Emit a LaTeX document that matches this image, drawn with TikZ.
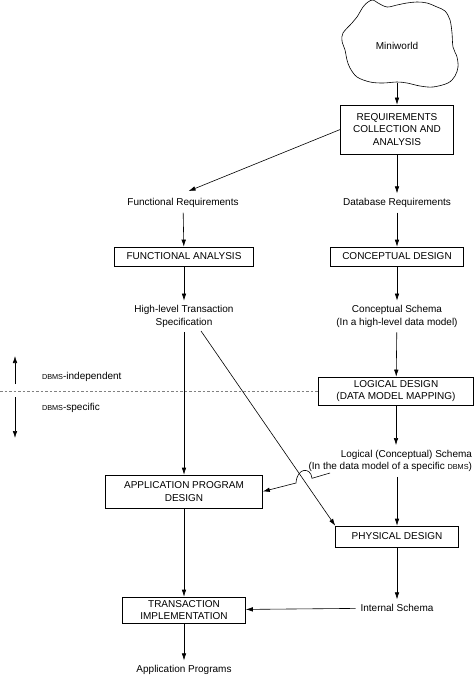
\documentclass[tikz,border=0pt]{standalone}
\usepackage{fontspec}
\setmainfont{Liberation Sans}
\usepackage{tikz}
\usetikzlibrary{arrows.meta}
\newcommand{\dbms}{{\fontsize{7.3}{9}\selectfont DBMS}}
\tikzstyle{box}=[rectangle,draw=black,line width=0.6pt,inner sep=2pt,
  align=center,font=\fontsize{10}{12.5}\selectfont]
\tikzstyle{txt}=[inner sep=2pt,outer sep=3pt,align=center,
  font=\fontsize{10}{12.5}\selectfont]
\tikzstyle{none}=[]
\tikzstyle{conn}=[line width=0.6pt,-{Latex[length=7pt,width=4.5pt]}]

\begin{document}
\begin{tikzpicture}[x=1pt, y=-1pt]
            \useasboundingbox (0, 0) rectangle (474, 676);
            \draw [line width=0.6pt] plot [smooth cycle, tension=0.55] coordinates {
              (343,33) (352,23) (357,17) (363,7) (368,2) (373,0) (378,3) (387,7)
              (397,5) (407,3) (417,2) (427,3) (437,7) (445,11) (450,20) (452,33)
              (453,47) (457,57) (458,67) (455,76) (448,83) (433,87) (420,86)
              (407,83) (397,82) (383,83) (370,82) (357,77) (350,68) (347,60)
              (345,50) (342,41)};
            \node [style=txt] (0) at (397, 46) {Miniworld};
            \coordinate (1) at (397, 83);
            \node [style=box, minimum width=113, minimum height=49] (2) at (397, 129.5) {REQUIREMENTS\\COLLECTION AND\\ANALYSIS};
            \node [style=txt] (3) at (183, 203) {Functional Requirements};
            \node [style=txt] (4) at (397, 203) {Database Requirements};
            \node [style=box, minimum width=139, minimum height=19] (5) at (184, 256.5) {FUNCTIONAL ANALYSIS};
            \node [style=box, minimum width=133, minimum height=19] (6) at (397, 256.5) {CONCEPTUAL DESIGN};
            \node [style=txt] (7) at (184, 316.5) {High-level Transaction\\Specification};
            \node [style=txt] (8) at (397, 316.5) {Conceptual Schema\\(In a high-level data model)};
            \node [style=box, minimum width=155, minimum height=28] (9) at (396, 391) {LOGICAL DESIGN\\(DATA MODEL MAPPING)};
            \node [style=txt, align=right, anchor=east, outer sep=0pt] (10) at (474, 461) {Logical (Conceptual) Schema\\(In the data model of a specific \dbms)};
            \node [style=box, minimum width=157, minimum height=33] (11) at (184, 491.5) {APPLICATION PROGRAM\\DESIGN};
            \node [style=box, minimum width=123, minimum height=21] (12) at (397, 536.5) {PHYSICAL DESIGN};
            \node [style=txt] (13) at (397, 608) {Internal Schema};
            \node [style=box, minimum width=123, minimum height=26] (14) at (184, 610) {TRANSACTION\\IMPLEMENTATION};
            \node [style=txt] (15) at (184, 670) {Application Programs};
            \node [style=txt, anchor=west] (16) at (37, 377) {\dbms-independent};
            \node [style=txt, anchor=west] (17) at (37, 408) {\dbms-specific};
            \coordinate (18) at (15, 384);
            \coordinate (19) at (15, 356);
            \coordinate (20) at (15, 397);
            \coordinate (21) at (15, 438);
            \coordinate (22) at (0, 391);
            \coordinate (23) at (201, 331);
            \coordinate (24) at (330, 473);
            \coordinate (25) at (312, 478.3);
            \coordinate (26) at (296, 483);
            \draw [style=conn] (1) to (2);
            \draw [style=conn, shorten >=6pt] (2.west) to (3.north);
            \draw [style=conn] (2) to (4);
            \draw [style=conn] (3) to (5);
            \draw [style=conn] (4) to (6);
            \draw [style=conn] (5) to (7);
            \draw [style=conn] (6) to (8);
            \draw [style=conn] (8) to (9);
            \draw [style=conn, shorten >=3pt] (9.south) to (9.south |- 10.north);
            \draw [style=conn] (7) to (11);
            \draw [style=conn] (23) to (12.north west);
            \draw [style=conn] (24) -- (25) .. controls (311, 467) and (297, 467) .. (26) -- (11.east);
            \draw [style=conn, shorten <=3pt] (12.north |- 10.south) to (12.north);
            \draw [style=conn] (12) to (13);
            \draw [style=conn] (13) to (14);
            \draw [style=conn] (11) to (14);
            \draw [style=conn] (14) to (15);
            \draw [style=conn] (18) to (19);
            \draw [style=conn] (20) to (21);
            \draw [line width=0.6pt, gray, dash pattern=on 2.5pt off 2pt] (22) to (9.west);
    \end{tikzpicture}
\end{document}
